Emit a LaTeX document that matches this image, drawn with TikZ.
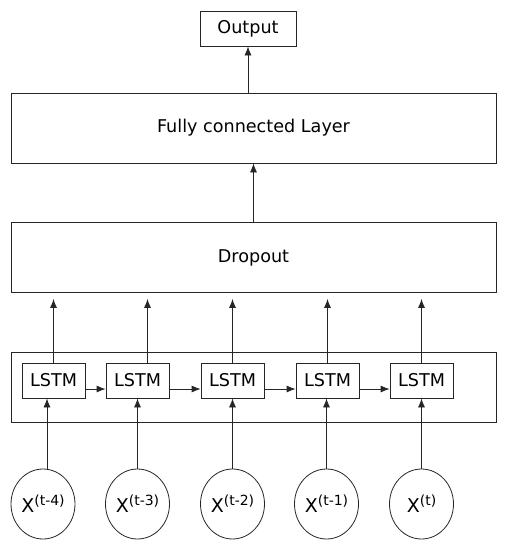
\documentclass[tikz,border=0pt]{standalone}
\usepackage{fontspec}
\setmainfont{DejaVu Sans}
\usetikzlibrary{arrows.meta,shapes.geometric}
\newcommand{\xin}[1]{{\fontsize{19}{20}\selectfont X}\raisebox{7pt}{\fontsize{14}{14}\selectfont(#1)}}
\begin{document}
\begin{tikzpicture}[x=1pt, y=-1pt, line width=0.8pt, draw=black!85,
    font=\fontsize{17.6}{20}\selectfont,
    box/.style = {draw, rectangle, inner sep=0pt},
    wide/.style = {box, minimum width=485pt, minimum height=70pt},
    cell/.style = {box, minimum width=63pt, minimum height=35pt},
    inp/.style = {draw, ellipse, inner sep=0pt, minimum width=64pt, minimum height=70pt},
    arr/.style = {-{Latex[length=9pt,width=7pt]}}]
    \useasboundingbox (0,0) rectangle (506,550);
    \node[box, minimum width=96pt, minimum height=35pt] (out) at (248,28.5) {Output};
    \node[wide] (fc) at (253.5,128) {Fully connected Layer};
    \node[wide] (drop) at (253.5,257.5) {Dropout};
    \node[wide] (rnn) at (253.5,387.5) {};
    \node[cell] (l1) at (53.5,380.5) {LSTM};
    \node[cell] (l2) at (137.5,380.5) {LSTM};
    \node[cell] (l3) at (232.5,380.5) {LSTM};
    \node[cell] (l4) at (327.5,380.5) {LSTM};
    \node[cell] (l5) at (421.5,380.5) {LSTM};
    \node[inp] (x1) at (43,504) {\xin{t-4}};
    \node[inp] (x2) at (137.5,504) {\xin{t-3}};
    \node[inp] (x3) at (232.5,504) {\xin{t-2}};
    \node[inp] (x4) at (326.5,504) {\xin{t-1}};
    \node[inp] (x5) at (421.5,504) {\xin{t}};
    % top of the stack
    \draw[arr] (out.south |- fc.north) -- (out.south);
    \draw[arr] (drop.north) -- (fc.south);
    % lstm outputs
    \draw[arr, shorten >=6pt] (l1.north) -- (l1.north |- drop.south);
    \draw[arr, shorten >=6pt] ([xshift=10pt]l2.north) -- ([xshift=10pt]l2.north |- drop.south);
    \draw[arr, shorten >=6pt] (l3.north) -- (l3.north |- drop.south);
    \draw[arr, shorten >=6pt] (l4.north) -- (l4.north |- drop.south);
    \draw[arr, shorten >=6pt] (l5.north) -- (l5.north |- drop.south);
    % recurrence
    \draw[arr] ([yshift=-8.5pt]l1.east) -- ([yshift=-8.5pt]l2.west);
    \draw[arr] ([yshift=-8.5pt]l2.east) -- ([yshift=-8.5pt]l3.west);
    \draw[arr] ([yshift=-8.5pt]l3.east) -- ([yshift=-8.5pt]l4.west);
    \draw[arr] ([yshift=-8.5pt]l4.east) -- ([yshift=-8.5pt]l5.west);
    % inputs
    \draw[arr] ([xshift=4pt]x1.north) -- ([xshift=4pt]x1.north |- l1.south);
    \draw[arr] (x2.north) -- (x2.north |- l2.south);
    \draw[arr] (x3.north) -- (x3.north |- l3.south);
    \draw[arr] (x4.north) -- (x4.north |- l4.south);
    \draw[arr] (x5.north) -- (x5.north |- l5.south);
\end{tikzpicture}
\end{document}
